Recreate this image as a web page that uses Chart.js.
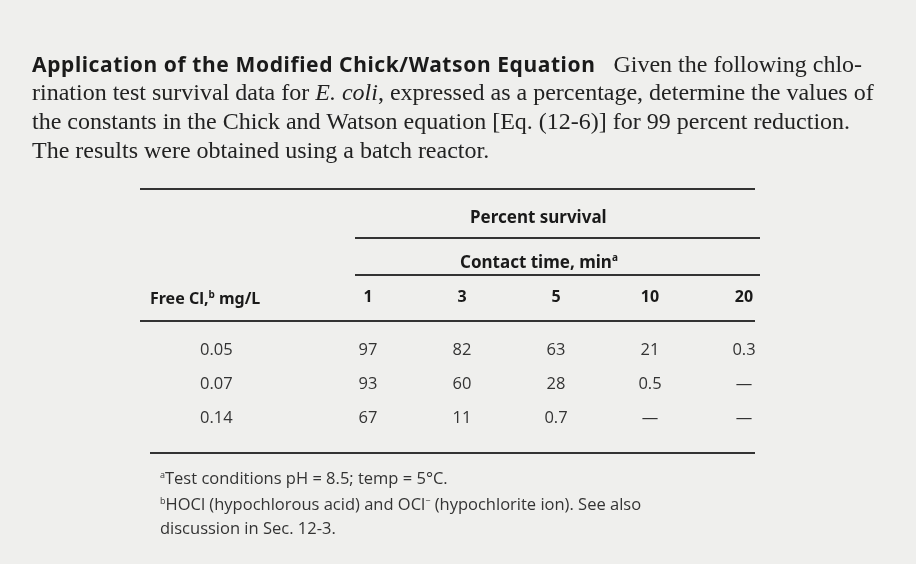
<!DOCTYPE html>
<html><head><meta charset="utf-8">
<script src="https://cdn.jsdelivr.net/npm/chart.js@4"></script>
<style>
body{margin:0;background:#efefed;width:916px;height:564px;overflow:hidden;position:relative;font-family:"Liberation Serif",serif;color:#222}
#wrap{position:absolute;left:0;top:0;width:916px;height:564px}
.t{position:absolute;white-space:nowrap}
.p{font-size:24px;left:32px}
.b{font-family:"Noto Sans",sans-serif;font-weight:bold;font-size:19px;color:#1a1a1a}
.s{font-family:"Open Sans",sans-serif;font-size:16.5px;color:#333}
.line{position:absolute;background:#333}
</style></head><body>
<div id="wrap"><canvas id="c" width="916" height="564"></canvas></div>
<div class="t p" style="top:50px"><span class="b" style="font-size:21px;letter-spacing:0.6px">Application of the Modified Chick/Watson Equation</span>&nbsp;&nbsp; Given the following chlo-</div>
<div class="t p" style="top:79px">rination test survival data for <i>E. coli</i>, expressed as a percentage, determine the values of</div>
<div class="t p" style="top:108px">the constants in the Chick and Watson equation [Eq. (12-6)] for 99 percent reduction.</div>
<div class="t p" style="top:137px">The results were obtained using a batch reactor.</div>
<div class="line" style="left:140px;top:188px;width:615px;height:2px"></div>
<div class="t b" style="left:470px;top:205px;font-size:17px">Percent survival</div>
<div class="line" style="left:355px;top:237px;width:405px;height:1.5px"></div>
<div class="t b" style="left:460px;top:250px;font-size:17px">Contact time, min<sup style="font-size:10px">a</sup></div>
<div class="line" style="left:355px;top:274px;width:405px;height:1.5px"></div>
<div class="t b" style="left:150px;top:287px;font-size:16px">Free Cl,<sup style="font-size:10px">b</sup> mg/L</div>
<div class="line" style="left:140px;top:320px;width:615px;height:2px"></div>
<div class="line" style="left:150px;top:452px;width:605px;height:2px"></div>
<div class="t s" style="left:160px;top:466px"><sup style="font-size:9px">a</sup>Test conditions pH = 8.5; temp = 5°C.</div>
<div class="t s" style="left:160px;top:492px"><sup style="font-size:9px">b</sup>HOCl (hypochlorous acid) and OCl<sup style="font-size:9px">−</sup> (hypochlorite ion). See also</div>
<div class="t s" style="left:160px;top:516px">discussion in Sec. 12-3.</div>
<script>
const contactTimes=['1','3','5','10','20'];
const chlorine=['0.05','0.07','0.14'];
const surv005=['97','82','63','21','0.3'];
const surv007=['93','60','28','0.5','—'];
const surv014=['67','11','0.7','—','—'];
const rowsVals=[surv005,surv007,surv014];
const pts=[],labs=[];
chlorine.forEach((r,i)=>contactTimes.forEach((c,j)=>{pts.push({x:c,y:r});labs.push(rowsVals[i][j]);}));
const textPlugin={id:'txt',afterDatasetsDraw(ch){
 const ctx=ch.ctx,xs=ch.scales.x,ys=ch.scales.y;
 ctx.save();ctx.font='16.5px "Open Sans"';ctx.fillStyle='#333';ctx.textAlign='center';ctx.textBaseline='middle';
 pts.forEach((p,k)=>ctx.fillText(labs[k],xs.getPixelForValue(contactTimes.indexOf(p.x)),ys.getPixelForValue(chlorine.indexOf(p.y))));
 ctx.font='bold 16px "Noto Sans"';ctx.fillStyle='#1a1a1a';
 contactTimes.forEach((c,j)=>ctx.fillText(c,xs.getPixelForValue(j),297));
 ctx.font='16.5px "Open Sans"';ctx.fillStyle='#333';ctx.textAlign='left';
 chlorine.forEach((r,i)=>ctx.fillText(r,200,ys.getPixelForValue(i)));
 ctx.restore();}};
new Chart(document.getElementById('c'),{type:'scatter',
 data:{datasets:[{data:pts,pointRadius:0}]},
 options:{responsive:false,animation:false,
  layout:{padding:{left:321,right:125,top:333,bottom:129}},
  plugins:{legend:{display:false},tooltip:{enabled:false}},
  scales:{x:{type:'category',labels:contactTimes,offset:true,display:false},
          y:{type:'category',labels:chlorine,offset:true,display:false}}},
 plugins:[textPlugin]});
</script>
</body></html>
